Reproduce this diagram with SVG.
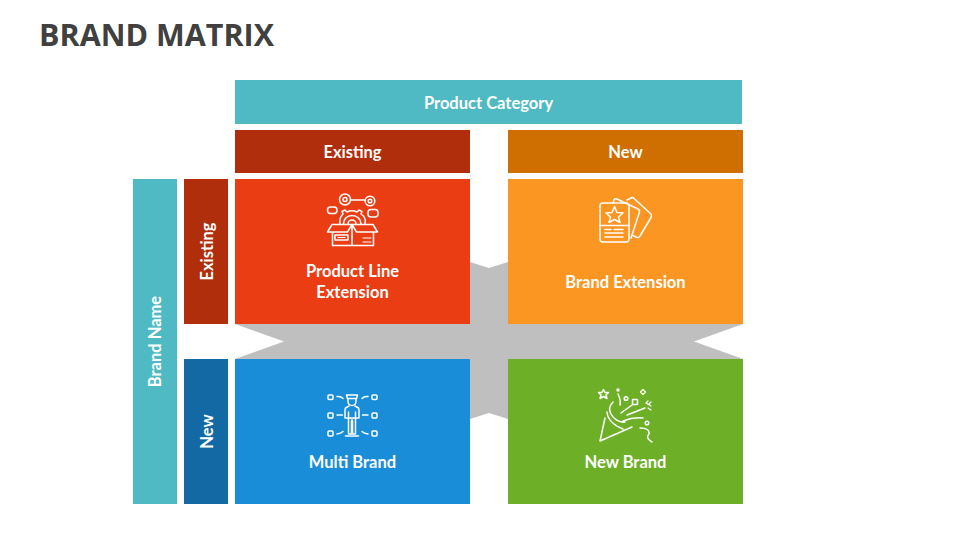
<svg xmlns="http://www.w3.org/2000/svg" width="960" height="540" viewBox="0 0 960 540">
<style>
text{font-family:Lato,"Liberation Sans",sans-serif;font-weight:700;fill:#fff;text-anchor:middle;font-size:16.500px}
.title{font-family:"Open Sans","Liberation Sans",sans-serif;font-size:31px;fill:#404040;text-anchor:start}
.ic{fill:none;stroke:#fff;stroke-width:1.500;stroke-linecap:round;stroke-linejoin:round}
.thin{stroke-width:1.200}
</style>
<rect width="960" height="540" fill="#fff"/>
<text class="title" x="39" y="45.500" textLength="235" lengthAdjust="spacingAndGlyphs">BRAND MATRIX</text>
<g id="connectors">
<polygon points="235,324 470,324 470,262 489,268 508,262 508,324 743,324 694,341.500 743,359 508,359 508,419 489,413 470,419 470,359 235,359 284,341.500" fill="#bfbfbf"/>
</g>
<g id="header-product-category"><rect x="235" y="80" width="507" height="44" fill="#4fbac3"/><text x="488.500" y="109">Product Category</text></g>
<g id="header-existing"><rect x="235" y="130" width="235" height="43" fill="#b02e0c"/><text x="352.500" y="158">Existing</text></g>
<g id="header-new"><rect x="508" y="130" width="235" height="43" fill="#cf6f02"/><text x="625.500" y="158">New</text></g>
<g id="side-brand-name"><rect x="133" y="179" width="44" height="325" fill="#4fbac3"/><text transform="translate(161 341.500) rotate(-90)">Brand Name</text></g>
<g id="side-existing"><rect x="184" y="179" width="44" height="145" fill="#b02e0c"/><text transform="translate(212.500 251.500) rotate(-90)">Existing</text></g>
<g id="side-new"><rect x="184" y="359" width="44" height="145" fill="#1269a3"/><text transform="translate(212.500 431.500) rotate(-90)">New</text></g>
<g id="product-line-extension">
<rect x="235" y="179" width="235" height="145" fill="#eb3d14"/>
<g class="ic">
<circle cx="345" cy="199.500" r="5.500"/><circle cx="345" cy="199.500" r="2"/>
<circle cx="370" cy="201" r="4.800"/><circle cx="370" cy="201" r="1.800"/>
<path d="M350.500 200H365"/>
<rect x="327.500" y="207" width="9.500" height="6.500" rx="3"/>
<rect x="368" y="209.500" width="10" height="7.500" rx="3"/>
<path d="M340 224C339 219 341 216 343 214L342 211.500L345 210L347 212C350 210.500 354 210.500 357 212L359 210L362 211.500L361 214C364 216 366 220 365 224"/>
<path d="M343.500 224C343.500 219 347 215.500 352 215.500C357 215.500 361 219 361 224M348 224C348 221.500 350 220 352 220C354 220 356 221.500 356 224"/>
<path d="M327.500 232L332 224.500H352L347.500 232ZM352 224.500H373L377.500 232H356.500ZM332.500 232V245.500H373.500V232M352 227V245.500"/>
<rect x="335" y="235" width="13" height="5"/>
<path d="M338 237.500H345M363 238H371M363 242H371" class="thin"/>
</g>
<text x="352.500" y="277">Product Line</text><text x="352.500" y="298">Extension</text>
</g>
<g id="brand-extension">
<rect x="508" y="179" width="235" height="145" fill="#fb9623"/>
<g class="ic">
<path d="M613 203L614 200Q615 198 617 199L638 209Q640 210 639.500 212L631 238"/>
<path d="M627 200L631 198Q633 197 634 198.500L651 214Q652 216 651 217.500L640 236Q639 238 637 237.500L632 235"/>
<rect x="600" y="203" width="29" height="39" rx="3"/>
<path d="M614.500 206.500L617 212.500L623 213L618.500 217L620 222.500L614.500 219.500L609 222.500L610.500 217L606 213L612 212.500Z"/>
<path d="M600 225.500H629M605 229.500H611M614 229.500H623M605 233H623M605 237H623"/>
</g>
<text x="625.500" y="288">Brand Extension</text>
</g>
<g id="multi-brand">
<rect x="235" y="359" width="235" height="145" fill="#1a8dd8"/>
<g class="ic">
<rect x="328" y="395" width="5" height="4.500" rx="1"/><rect x="328" y="413" width="5" height="5" rx="1"/><rect x="328" y="431" width="5" height="5" rx="1"/>
<rect x="372" y="395" width="5" height="4.500" rx="1"/><rect x="372" y="413" width="5" height="5" rx="1"/><rect x="372" y="431" width="5" height="5" rx="1"/>
<path d="M337 396.500Q341 396 343 398.500M368 396.500Q364 396 362 398.500M337 415H342.500M362.500 415H368M337 434Q341 433.500 343 431.500M368 434Q364 433.500 362 431.500"/>
<path d="M346.500 395H357.500L356.500 398.500H347.500ZM348 398.500V401.500Q348.500 405.500 352 405.500Q355.500 405.500 356 401.500V398.500"/>
<path d="M349 406L345.500 408Q345 409 345 411V418H348.500V412M355 406L358.500 408Q359 409 359 411V418H355.500V412"/>
<path d="M348.500 418V434H351.500V420H352.500V434H355.500V418M348.500 418H355.500M345.500 436H351.500M352.500 436H358.500"/>
</g>
<text x="352.500" y="468">Multi Brand</text>
</g>
<g id="new-brand">
<rect x="508" y="359" width="235" height="145" fill="#6eaf28"/>
<g class="ic">
<path d="M603.500 389.500L605 392.500H608.500L606 395L607 398.500L603.500 396.500L600 398.500L601 395L598.500 392.500H602Z"/>
<circle cx="618" cy="390" r="1" fill="#fff"/>
<path d="M618 394Q621 400 620 405"/>
<circle cx="626" cy="398.500" r="1.800"/>
<rect x="632.500" y="399.500" width="5" height="5" rx="0.500"/>
<path d="M643 389.500L645.500 392L643 394.500L640.500 392Z" class="thin"/>
<path d="M621 413L632 405M627 415L645 408"/>
<path d="M646 403L651 406M648 408L651 410M646 403L648 401M651 402L649 404" class="thin"/>
<path d="M613 402Q606 409 613 417Q619 423 625 422M607 412Q608 423 623 429M605 418L600 441L632 427M623 421Q633 417 643 418"/>
<circle cx="647" cy="423" r="1.800"/>
<path d="M640 428Q650 428 649 434Q645 438 652 442"/>
</g>
<text x="625.500" y="468">New Brand</text>
</g>
</svg>
